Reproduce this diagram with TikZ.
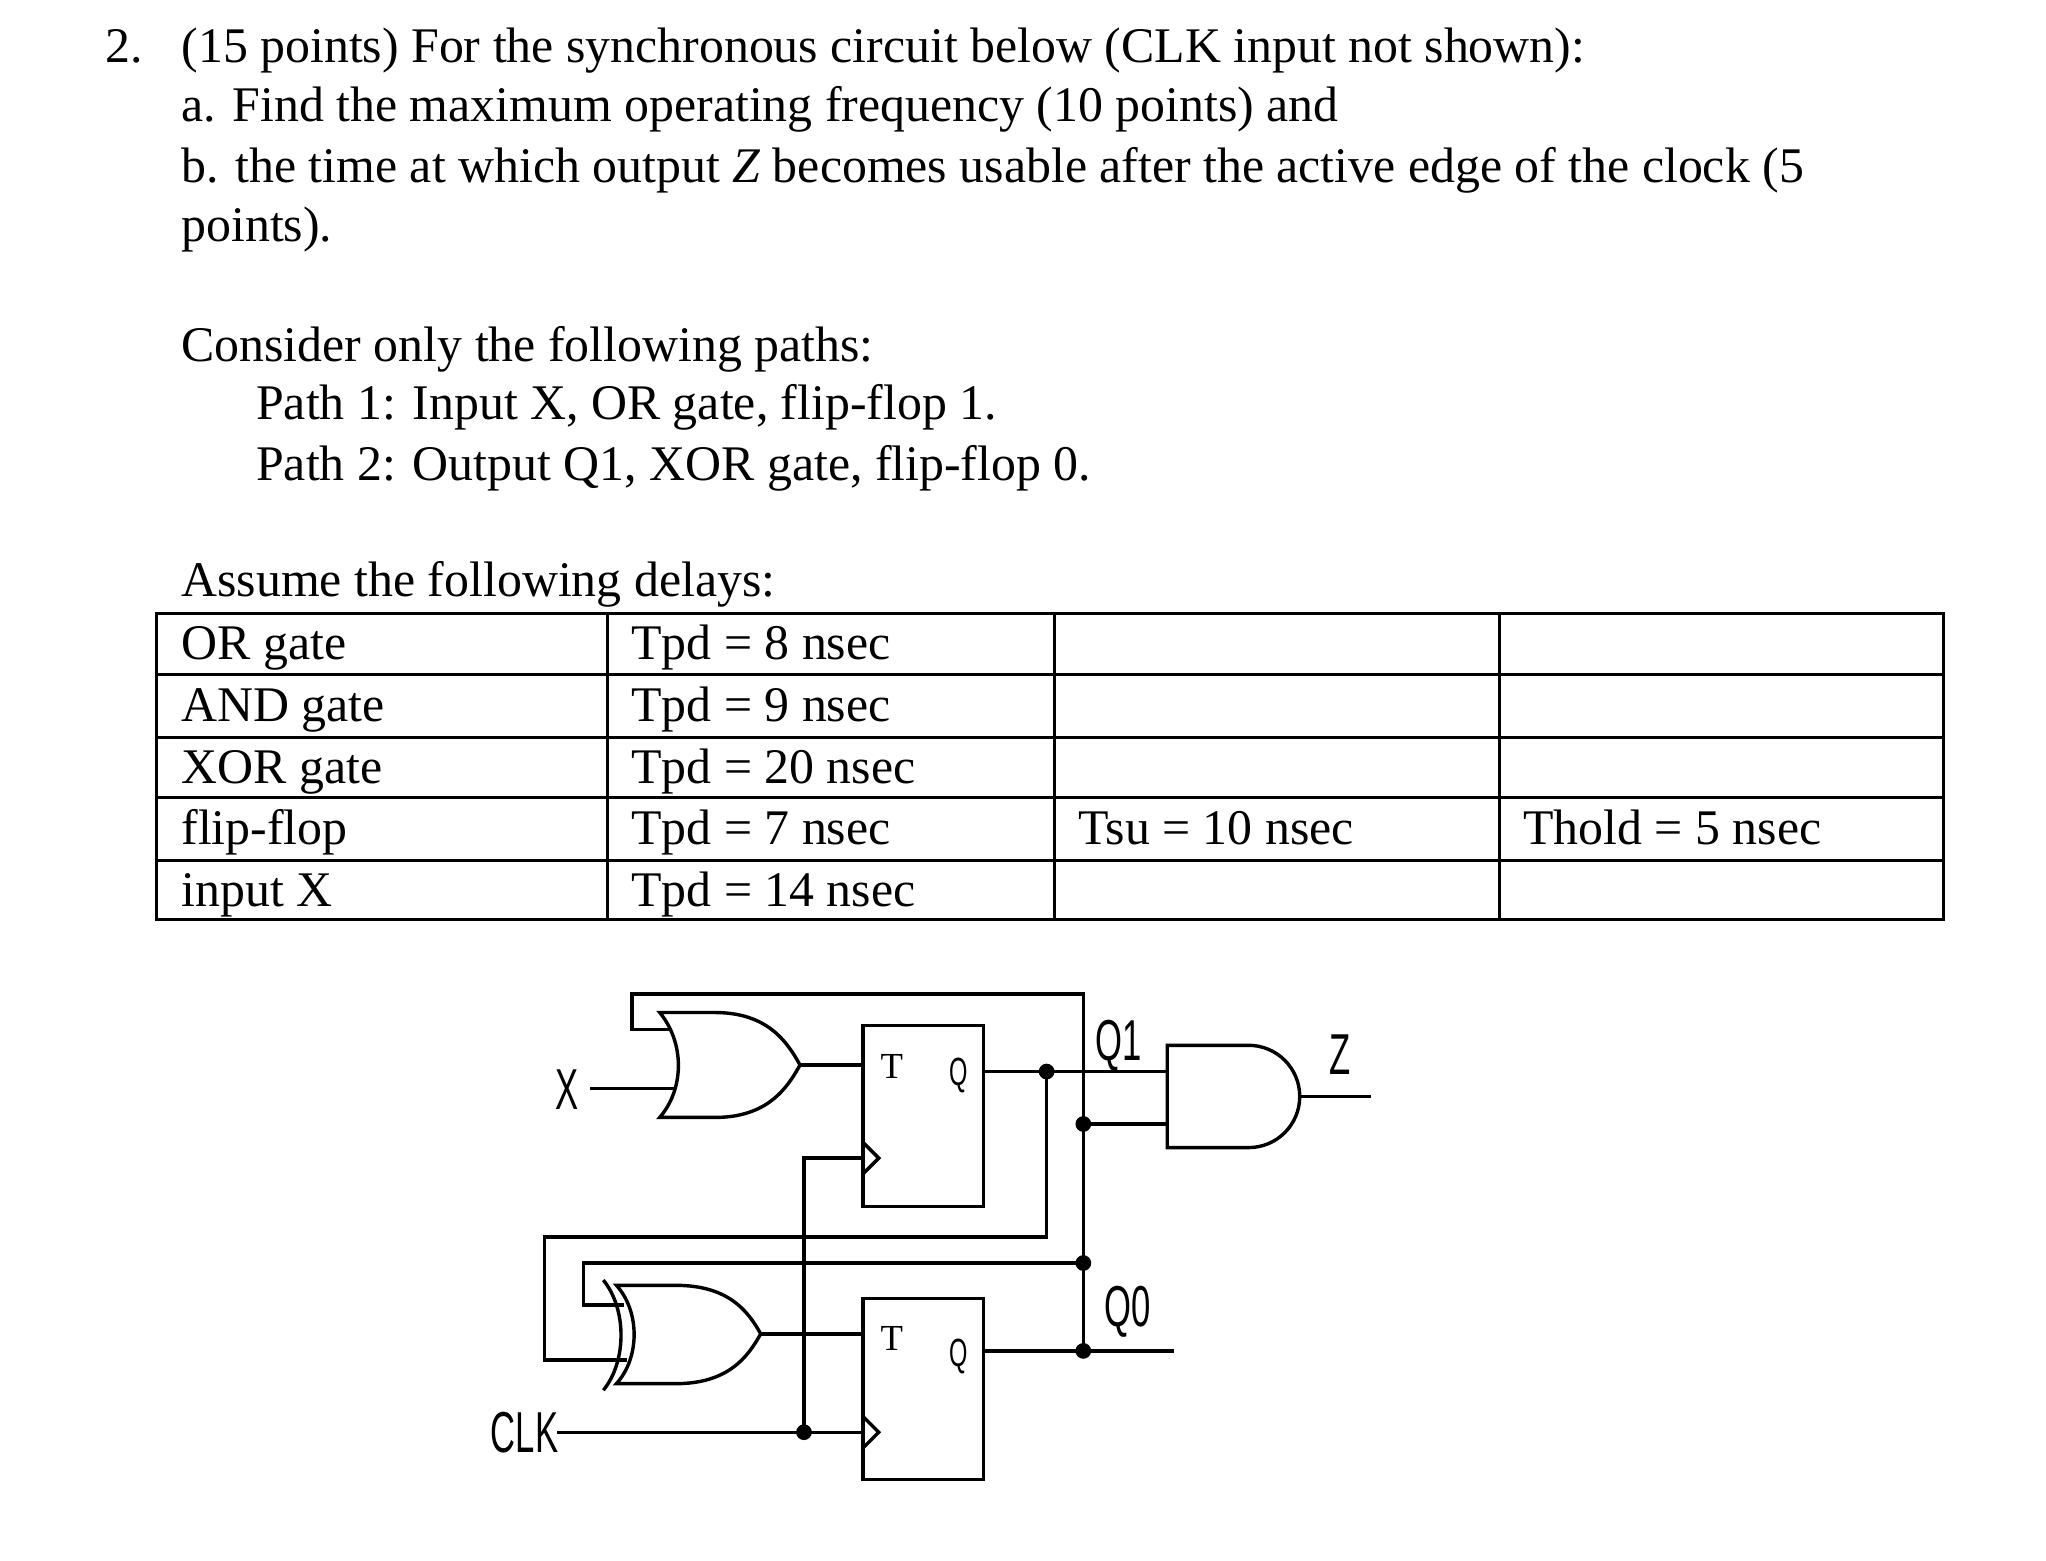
\documentclass[tikz,border=0pt]{standalone}
\usepackage{fontspec}
\setmainfont{Liberation Serif}
\newfontfamily\lblfont{Liberation Sans}
\begin{document}
\begin{tikzpicture}[x=0.5pt,y=-0.5pt,
  txt/.style={anchor=base west,inner sep=0pt,font=\fontsize{19}{22}\selectfont},
  lbl/.style={inner sep=0pt,font=\lblfont\fontsize{18}{20}\selectfont,xscale=0.6},
  wire/.style={line width=1.3pt},
  dotc/.style={circle,fill,inner sep=0pt,minimum size=6pt}]
\useasboundingbox (0,0) rectangle (1560,1190);
% text
\node[txt] (n2) at (80,48) {2.};
\node[txt] (l1) at (138,48) {(15 points) For the synchronous circuit below (CLK input not shown):};
\node[txt] (l2) at (138,93) {a. Find the maximum operating frequency (10 points) and};
\node[txt] (l3) at (138,139) {b. the time at which output \textit{Z} becomes usable after the active edge of the clock (5};
\node[txt] (l4) at (138,184) {points).};
\node[txt] (l5) at (138,276) {Consider only the following paths:};
\node[txt] (l6) at (195,320) {Path 1: Input X, OR gate, flip-flop 1.};
\node[txt] (l7) at (195,366) {Path 2: Output Q1, XOR gate, flip-flop 0.};
\node[txt] (l8) at (138,455) {Assume the following delays:};
% table
\draw[line width=1.2pt] (119,468) rectangle (1482,701);
\foreach \y in {514,562,608,656} \draw[line width=1.2pt] (119,\y) -- (1482,\y);
\foreach \x in {463,804,1143} \draw[line width=1.2pt] (\x,468) -- (\x,701);
\node[txt] at (138,503) {OR gate};
\node[txt] at (138,550) {AND gate};
\node[txt] at (138,597) {XOR gate};
\node[txt] at (138,644) {flip-flop};
\node[txt] at (138,691) {input X};
\node[txt] at (481,503) {Tpd = 8 nsec};
\node[txt] at (481,550) {Tpd = 9 nsec};
\node[txt] at (481,597) {Tpd = 20 nsec};
\node[txt] at (481,644) {Tpd = 7 nsec};
\node[txt] at (481,691) {Tpd = 14 nsec};
\node[txt] at (822,644) {Tsu = 10 nsec};
\node[txt] at (1161,644) {Thold = 5 nsec};
% OR gate
\draw[wire] (503,772) .. controls (522,795) and (522,830) .. (503,852) -- (545,852)
  .. controls (585,852) and (600,830) .. (610,812) .. controls (600,794) and (585,772) .. (545,772) -- cycle;
% XOR gate
\draw[wire] (470,980) .. controls (488,1000) and (488,1035) .. (470,1055) -- (515,1055)
  .. controls (555,1055) and (570,1035) .. (580,1017) .. controls (570,999) and (555,980) .. (515,980) -- cycle;
\draw[wire] (460,976) .. controls (478,998) and (478,1038) .. (460,1060);
% AND gate
\draw[wire] (890,797) -- (952,797) arc[start angle=-90,end angle=90,radius=39] -- (890,875) -- cycle;
% flip-flops
\draw[wire] (658,782) rectangle (750,920);
\draw[wire] (658,990) rectangle (750,1128);
\draw[wire] (658,871) -- (670,883) -- (658,895);
\draw[wire] (658,1080) -- (670,1092) -- (658,1104);
\node[txt,font=\fontsize{14}{16}\selectfont] at (671,822) {T};
\node[txt,font=\fontsize{14}{16}\selectfont] at (671,1030) {T};
\node[lbl,font=\lblfont\fontsize{15}{16}\selectfont] at (731,820) {Q};
\node[lbl,font=\lblfont\fontsize{15}{16}\selectfont] at (731,1034) {Q};
% wires
\draw[wire] (510,785) -- (482,785) -- (482,758) -- (826,758) -- (826,1030);
\draw[wire] (450,830) -- (514,830);
\draw[wire] (610,812) -- (658,812);
\draw[wire] (750,817) -- (890,817);
\draw[wire] (798,817) -- (798,943) -- (415,943) -- (415,1037) -- (478,1037);
\draw[wire] (826,963) -- (445,963) -- (445,995) -- (476,995);
\draw[wire] (826,857) -- (890,857);
\draw[wire] (750,1030) -- (895,1030);
\draw[wire] (580,1017) -- (658,1017);
\draw[wire] (425,1092) -- (658,1092);
\draw[wire] (613,1092) -- (613,883) -- (658,883);
\draw[wire] (991,836) -- (1045,836);
\node[dotc] at (798,817) {};
\node[dotc] at (826,857) {};
\node[dotc] at (826,963) {};
\node[dotc] at (826,1030) {};
\node[dotc] at (613,1092) {};
% labels
\node[lbl,font=\lblfont\fontsize{22}{24}\selectfont] at (432,831) {X};
\node[lbl,font=\lblfont\fontsize{22}{24}\selectfont] at (400,1092) {CLK};
\node[lbl,font=\lblfont\fontsize{22}{24}\selectfont] at (853,797) {Q1};
\node[lbl,font=\lblfont\fontsize{22}{24}\selectfont] at (1022,804) {Z};
\node[lbl,font=\lblfont\fontsize{22}{24}\selectfont] at (860,1000) {Q0};
\end{tikzpicture}
\end{document}
